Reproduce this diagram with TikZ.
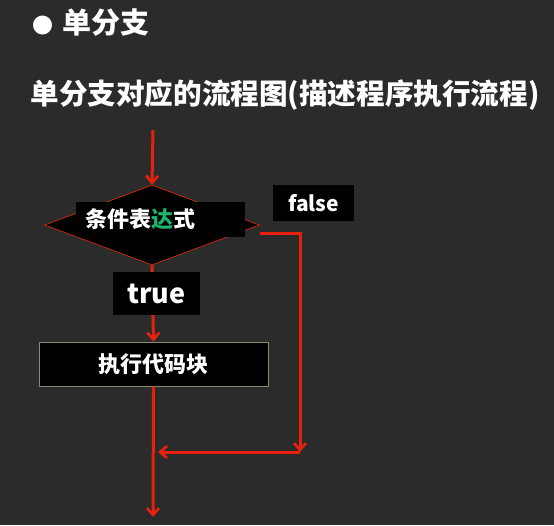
\documentclass[tikz,border=0pt]{standalone}
\usepackage{fontspec}
\newfontfamily\cjk{Noto Sans CJK SC}
\usetikzlibrary{arrows.meta,shapes.geometric,positioning}

\definecolor{board}{HTML}{2B2B2B}
\definecolor{flowred}{HTML}{E8210F}
\definecolor{hilite}{HTML}{1DB36B}
\definecolor{boxedge}{HTML}{8C8C6C}

\begin{document}
\begin{tikzpicture}[x=1pt, y=-1pt, >={Straight Barb[length=7pt,width=12pt,line width=2.6pt]}]
    \tikzstyle{every node}=[font=\cjk\bfseries, text=white]
    \tikzstyle{flow}=[->, draw=flowred, line width=3pt]
    \tikzstyle{decision}=[diamond, fill=black, draw=flowred!85!orange, line width=0.6pt,
        minimum width=215pt, minimum height=80pt, inner sep=0pt]
    \tikzstyle{block}=[rectangle, fill=black, draw=boxedge, line width=0.8pt,
        minimum width=229pt, minimum height=44pt]
    \tikzstyle{tag}=[rectangle, fill=black, inner sep=0pt]

    % board
    \fill[board] (0,0) rectangle (554,525);
    \useasboundingbox (0,0) rectangle (554,525);

    \node (title) [anchor=west] at (29,23)
        {\fontsize{29}{34}\selectfont {\fontsize{21}{24}\selectfont ●}\hspace{9pt}单分支};
    \node (subtitle) [anchor=west] at (27,95)
        {\fontsize{28.6}{33}\selectfont 单分支对应的流程图(描述程序执行流程)};

    \node[decision] (cond) at (152,225) {};
    \node[block] (code) at (153.5,364) {\fontsize{22}{26}\selectfont 执行代码块};

    \coordinate (start) at (153,130);
    \coordinate (bend) at (300,452);
    \coordinate (merge) at (158,452);
    \coordinate (stop) at (153,517);

    \draw[flow] (start) -- (cond.north);
    \draw[flow] (cond.south) -- (code.north);
    \draw[flow] ([yshift=-8pt]cond.east) -| (bend);
    \draw[flow] (bend) -- (merge);
    \draw[flow] (code.south) -- (stop);

    % labels on top
    \node[tag, text width=151pt, inner xsep=9pt, minimum height=35pt, align=left] (condtext)
        at (160.5,219.5) {\fontsize{22}{26}\selectfont 条件表{\color{hilite}达}式};
    \node[tag, minimum width=87pt, minimum height=43pt] (truetag) at (156.5,293.5)
        {\fontsize{27}{30}\selectfont true};
    \node[tag, minimum width=81pt, minimum height=36pt] (falsetag) at (313.5,203)
        {\fontsize{21}{25}\selectfont false};

\end{tikzpicture}
\end{document}
